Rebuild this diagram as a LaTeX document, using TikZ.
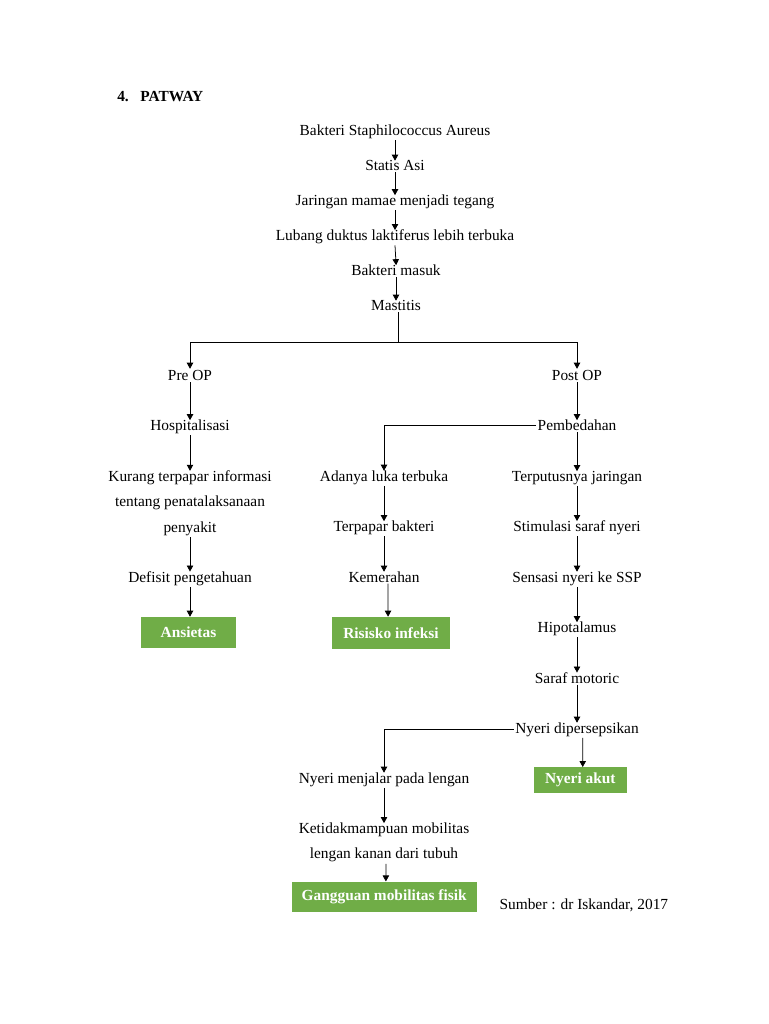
\documentclass[tikz,border=0pt]{standalone}
\usepackage{fontspec}
\setmainfont{Liberation Serif}
\usetikzlibrary{arrows.meta}
\definecolor{boxgreen}{RGB}{112,173,71}
\begin{document}
\begin{tikzpicture}[x=0.78pt,y=-0.78pt,
  txt/.style={inner sep=1pt,font=\fontsize{12}{19.9}\selectfont,align=center},
  gbox/.style={fill=boxgreen,text=white,inner sep=0pt,font=\fontsize{12}{14}\selectfont\bfseries},
  arr/.style={draw=black,line width=0.6pt,-{Triangle[length=4.7pt,width=5pt]}},
  arrt/.style={arr,shorten >=-1.5pt},
  ln/.style={draw=black,line width=0.6pt}]
\fill[white] (0,0) rectangle (768,1024);
\useasboundingbox (0,0) rectangle (768,1024);

\node[anchor=base west,inner sep=0pt,font=\fontsize{12}{14}\selectfont\bfseries] (title) at (117,101.5) {4.\hspace{9pt}PATWAY};

% main column
\node[txt,anchor=base] (n1) at (395,135.5) {Bakteri Staphilococcus Aureus};
\node[txt,anchor=base] (n2) at (395,170.5) {Statis Asi};
\node[txt,anchor=base] (n3) at (395,205.5) {Jaringan mamae menjadi tegang};
\node[txt,anchor=base] (n4) at (395,240.5) {Lubang duktus laktiferus lebih terbuka};
\node[txt,anchor=base] (n5) at (396,275.5) {Bakteri masuk};
\node[txt,anchor=base] (n6) at (396,310.5) {Mastitis};
\coordinate (m1) at (398,342.5);

% pre op column
\node[txt,anchor=base] (preop) at (190,380.5) {Pre OP};
\node[txt,anchor=base] (hosp) at (190,430.5) {Hospitalisasi};
\node[txt] (kurang) at (190,503) {Kurang terpapar informasi\\tentang penatalaksanaan\\penyakit};
\node[txt,anchor=base] (defisit) at (190,582) {Defisit pengetahuan};
\node[gbox,minimum width=74.1pt,minimum height=24.2pt] (ansietas) at (188.5,632.5) {Ansietas};

% post op column
\node[txt,anchor=base] (postop) at (577,380.5) {Post OP};
\node[txt,anchor=base] (pemb) at (577,430.5) {Pembedahan};
\node[txt,anchor=base] (putus) at (577,481) {Terputusnya jaringan};
\node[txt,anchor=base] (stim) at (577,531.5) {Stimulasi saraf nyeri};
\node[txt,anchor=base] (sensasi) at (577,582) {Sensasi nyeri ke SSP};
\node[txt,anchor=base] (hipo) at (577,632.5) {Hipotalamus};
\node[txt,anchor=base] (motor) at (577,683) {Saraf motoric};
\node[txt,anchor=base] (persep) at (577,733) {Nyeri dipersepsikan};
\node[gbox,minimum width=72.3pt,minimum height=19.8pt] (akut) at (580.3,780) {Nyeri akut};

% middle column
\node[txt,anchor=base] (luka) at (384,481) {Adanya luka terbuka};
\node[txt,anchor=base] (papar) at (384,531.5) {Terpapar bakteri};
\node[txt,anchor=base] (merah) at (384,582) {Kemerahan};
\node[gbox,minimum width=92pt,minimum height=25pt] (infeksi) at (391,633) {Risisko infeksi};

% lower column
\node[txt,anchor=base] (menjalar) at (384,783) {Nyeri menjalar pada lengan};
\node[txt] (ketidak) at (384,842.5) {Ketidakmampuan mobilitas\\lengan kanan dari tubuh};
\node[gbox,minimum width=144.3pt,minimum height=23.4pt] (gangguan) at (384.2,896.7) {Gangguan mobilitas fisik};

\node[txt,anchor=base west,inner sep=0pt] (sumber) at (499.3,909.5) {Sumber : dr Iskandar, 2017};

% connectors main column
\draw[arrt] (n1.south) -- (n2.north);
\draw[arrt] (n2.south) -- (n3.north);
\draw[arrt] (n3.south) -- (n4.north);
\draw[arrt] (n4.south) -- (n5.north);
\draw[arrt] (n5.south) -- (n6.north);
\draw[ln] (n6.south -| m1) -- (m1);
\draw[arr] (m1) -| (preop.north);
\draw[arr] (m1) -| (postop.north);

% pre op
\draw[arrt] (preop.south) -- (hosp.north);
\draw[arrt] (hosp.south) -- (kurang.north);
\draw[arrt] (kurang.south) -- (defisit.north);
\draw[arr] (defisit.south) -- (defisit.south |- ansietas.north);

% post op
\draw[arrt] (postop.south) -- (pemb.north);
\draw[arrt] (pemb.west) -| (luka.north);
\draw[arrt] (pemb.south) -- (putus.north);
\draw[arrt] (putus.south) -- (stim.north);
\draw[arrt] (stim.south) -- (sensasi.north);
\draw[arrt] (sensasi.south) -- (hipo.north);
\draw[arrt] (hipo.south) -- (motor.north);
\draw[arrt] (motor.south) -- (persep.north);
\draw[arr] ([xshift=4.4pt]persep.south) -- ([xshift=1.9pt]akut.north);

% middle
\draw[arrt] (luka.south) -- (papar.north);
\draw[arrt] (papar.south) -- (merah.north);
\draw[arr] ([xshift=3.1pt]merah.south) -- ([xshift=-2.3pt]infeksi.north);

% lower
\draw[arrt] (persep.west) -| (menjalar.north);
\draw[arrt] (menjalar.south) -- (ketidak.north);
\draw[arr] ([xshift=1.5pt]ketidak.south) -- ([xshift=1.3pt]gangguan.north);
\end{tikzpicture}
\end{document}
